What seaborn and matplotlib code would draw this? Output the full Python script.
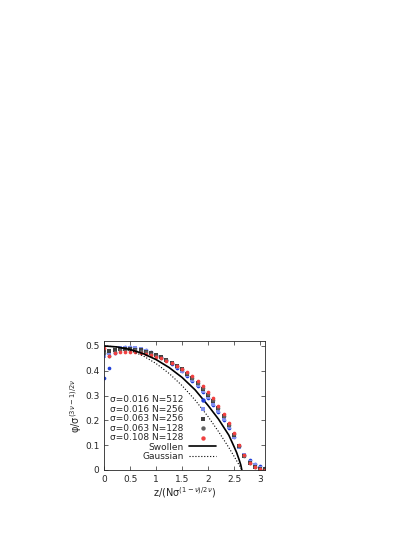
import numpy as np
import pandas as pd
import matplotlib.pyplot as plt
import seaborn as sns

sns.set_style('ticks')
plt.rcParams['font.family'] = ['DejaVu Sans']

z = [round(0.1 * i, 1) for i in range(32)]
s016_512 = [0.37, 0.41, 0.47, 0.49, 0.497, 0.497, 0.493, 0.488, 0.482, 0.474, 0.465, 0.454, 0.442, 0.428, 0.413, 0.397,
            0.379, 0.359, 0.338, 0.315, 0.29, 0.263, 0.234, 0.203, 0.17, 0.133, 0.095, 0.062, 0.04, 0.025, 0.014, 0.008]
s016_256 = [0.46, 0.47, 0.485, 0.49, 0.492, 0.492, 0.49, 0.486, 0.48, 0.473, 0.465, 0.455, 0.443, 0.43, 0.416, 0.4,
            0.382, 0.363, 0.342, 0.319, 0.294, 0.267, 0.238, 0.206, 0.172, 0.134, 0.094, 0.058, 0.033, 0.018, 0.009, 0.004]
s063_256 = [0.48, 0.48, 0.485, 0.487, 0.488, 0.487, 0.485, 0.482, 0.477, 0.471, 0.464, 0.455, 0.445, 0.433, 0.42, 0.405,
            0.388, 0.37, 0.35, 0.328, 0.304, 0.277, 0.248, 0.216, 0.18, 0.14, 0.095, 0.055, 0.028, 0.012, 0.005, 0.002]
s063_128 = [0.47, 0.46, 0.475, 0.482, 0.484, 0.484, 0.482, 0.479, 0.474, 0.468, 0.461, 0.453, 0.443, 0.432, 0.419, 0.405,
            0.389, 0.371, 0.352, 0.33, 0.306, 0.28, 0.251, 0.219, 0.183, 0.143, 0.098, 0.057, 0.028, 0.012, 0.004, 0.001]
s108_128 = [0.49, 0.46, 0.47, 0.475, 0.477, 0.477, 0.475, 0.472, 0.468, 0.463, 0.457, 0.45, 0.441, 0.431, 0.42, 0.407,
            0.393, 0.377, 0.358, 0.337, 0.314, 0.288, 0.259, 0.227, 0.19, 0.148, 0.1, 0.058, 0.028, 0.011, 0.004, 0.001]

z_th = [0, 0.25, 0.5, 0.75, 1.0, 1.25, 1.5, 1.75, 2.0, 2.2, 2.4, 2.5, 2.55, 2.6, 2.63, 2.65]
swollen = [0.5, 0.496, 0.486, 0.469, 0.445, 0.413, 0.373, 0.323, 0.26, 0.205, 0.14, 0.094, 0.07, 0.04, 0.02, 0.0]
gaussian = [0.5, 0.496, 0.482, 0.46, 0.429, 0.389, 0.34, 0.282, 0.215, 0.155, 0.09, 0.055, 0.037, 0.019, 0.008, 0.0]

fig = plt.figure(figsize=(4.15, 5.37), dpi=100)
ax = fig.add_axes([0.251, 0.125, 0.388, 0.24])

series = [
    (s016_512, '#1f3fd8', 'o', 'σ=0.016 N=512'),
    (s016_256, '#7f8ff0', 's', 'σ=0.016 N=256'),
    (s063_256, '#404040', 's', 'σ=0.063 N=256'),
    (s063_128, '#606060', 'o', 'σ=0.063 N=128'),
    (s108_128, '#f04040', 'o', 'σ=0.108 N=128'),
]
for vals, col, mk, lab in series:
    sns.scatterplot(x=z, y=vals, ax=ax, color=col, marker=mk, s=7, linewidth=0, label=lab)
sns.lineplot(x=z_th, y=swollen, ax=ax, color='black', linewidth=1.2, label='Swollen')
sns.lineplot(x=z_th, y=gaussian, ax=ax, color='black', linewidth=0.8, linestyle=':', label='Gaussian')

ax.set_xlim(0, 3.1)
ax.set_ylim(0, 0.52)
ax.set_xticks([0, 0.5, 1, 1.5, 2, 2.5, 3])
ax.set_xticklabels(['0', '0.5', '1', '1.5', '2', '2.5', '3'])
ax.set_yticks([0, 0.1, 0.2, 0.3, 0.4, 0.5])
ax.set_yticklabels(['0', '0.1', '0.2', '0.3', '0.4', '0.5'])
ax.tick_params(labelsize=6.5, direction='in', length=3, width=0.5, top=True, right=True)
for sp in ax.spines.values():
    sp.set_linewidth(0.6)
ax.set_xlabel('z/(Nσ$^{(1-ν)/2ν}$)', fontsize=7, labelpad=1)
ax.set_ylabel('φ/σ$^{(3ν-1)/2ν}$', fontsize=7, labelpad=1)
ax.legend(loc='lower left', bbox_to_anchor=(0.0, 0.02), fontsize=6.5, frameon=False, markerfirst=False,
          handlelength=3, labelspacing=0.05, borderpad=0.2, handletextpad=0.6, markerscale=1.2)

fig.savefig('out.png', dpi=100)
